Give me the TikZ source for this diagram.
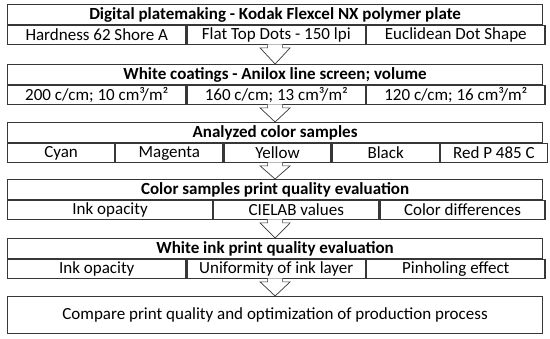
\documentclass[tikz,border=0pt]{standalone}
\usepackage{fontspec}
\setmainfont{Carlito}
\usepackage{tikz}
\usetikzlibrary{calc,positioning}

\definecolor{boxline}{RGB}{55,55,55}
\tikzset{
  headrow/.style={draw=boxline,line width=1.2pt,minimum width=535pt,minimum height=20pt,
    inner sep=0pt,anchor=north west,font=\bfseries\fontsize{17}{18}\selectfont},
  cellrow/.style={draw=boxline,line width=1.2pt,minimum height=18.5pt,inner sep=0pt,
    anchor=north west,font=\fontsize{17}{18}\selectfont},
  flowarrow/.style={draw=boxline,fill=white,line width=0.7pt,line join=miter}
}
% hollow block arrow from a box bottom (#1) to the next box top (#2)
\newcommand{\blockarrow}[2]{%
  \draw[flowarrow] ($(#1)+(-7.5,0.5)$) -- ++(0,-3.5) -- ++(-7.5,0) -- (#2.north)
    -- ($(#1)+(15,-3)$) -- ++(-7.5,0) -- ++(0,3.5);}

\begin{document}
\begin{tikzpicture}[x=1pt,y=1pt]
  \useasboundingbox (0,0) rectangle (550,-339);

  % plate
  \node[headrow] (t1) at (7,-4) {Digital platemaking - Kodak Flexcel NX polymer plate};
  \node[cellrow,minimum width=178.33pt] (c11) at (t1.south west) {Hardness 62 Shore A};
  \node[cellrow,minimum width=178.33pt] (c12) at (c11.north east) {Flat Top Dots - 150 lpi};
  \node[cellrow,minimum width=178.33pt] (c13) at (c12.north east) {Euclidean Dot Shape};
  \coordinate (b1) at (t1.center |- c11.south);

  % coatings
  \node[headrow] (t2) at (7,-64) {White coatings - Anilox line screen; volume};
  \node[cellrow,minimum width=178.33pt] (c21) at (t2.south west) {200 c/cm; 10 cm³/m²};
  \node[cellrow,minimum width=178.33pt] (c22) at (c21.north east) {160 c/cm; 13 cm³/m²};
  \node[cellrow,minimum width=178.33pt] (c23) at (c22.north east) {120 c/cm; 16 cm³/m²};
  \coordinate (b2) at (t2.center |- c21.south);

  % samples
  \node[headrow] (t3) at (7,-122) {Analyzed color samples};
  \node[cellrow,minimum width=107pt] (c31) at (t3.south west) {Cyan};
  \node[cellrow,minimum width=107pt] (c32) at (c31.north east) {Magenta};
  \node[cellrow,minimum width=107pt] (c33) at (c32.north east) {Yellow};
  \node[cellrow,minimum width=107pt] (c34) at (c33.north east) {Black};
  \node[cellrow,minimum width=107pt] (c35) at (c34.north east) {Red P 485 C};
  \coordinate (b3) at (t3.center |- c31.south);

  % colour evaluation
  \node[headrow] (t4) at (7,-179) {Color samples print quality evaluation};
  \node[cellrow,minimum width=205pt] (c41) at (t4.south west) {Ink opacity};
  \node[cellrow,minimum width=165pt] (c42) at (c41.north east) {CIELAB values};
  \node[cellrow,minimum width=165pt] (c43) at (c42.north east) {Color differences};
  \coordinate (b4) at (t4.center |- c41.south);

  % white ink evaluation
  \node[headrow] (t5) at (7,-238) {White ink print quality evaluation};
  \node[cellrow,minimum width=178.33pt] (c51) at (t5.south west) {Ink opacity};
  \node[cellrow,minimum width=178.33pt] (c52) at (c51.north east) {Uniformity of ink layer};
  \node[cellrow,minimum width=178.33pt] (c53) at (c52.north east) {Pinholing effect};
  \coordinate (b5) at (t5.center |- c51.south);

  \node[cellrow,minimum width=535pt,minimum height=37pt] (t6) at (7,-296)
    {Compare print quality and optimization of production process};

  \blockarrow{b1}{t2}
  \blockarrow{b2}{t3}
  \blockarrow{b3}{t4}
  \blockarrow{b4}{t5}
  \blockarrow{b5}{t6}
\end{tikzpicture}
\end{document}
